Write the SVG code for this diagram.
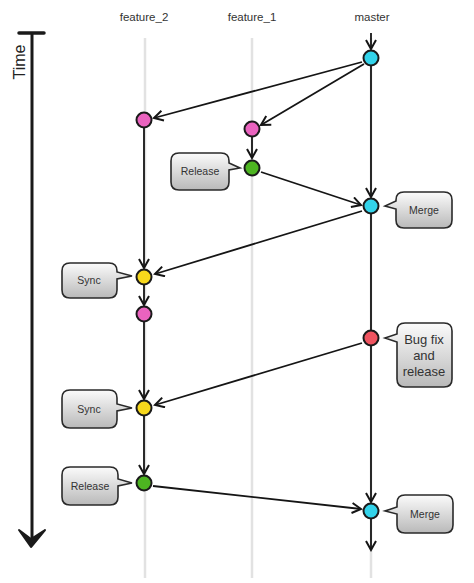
<svg xmlns="http://www.w3.org/2000/svg" width="474" height="583" viewBox="0 0 474 583">
<style>
  .lane { stroke: #e2e2e2; stroke-width: 2.5; fill: none; }
  .lbl { font-family: "Liberation Sans", Arial, sans-serif; font-size: 11.5px; fill: #333; text-anchor: middle; }
  .ctext { font-family: "Liberation Sans", Arial, sans-serif; font-size: 10.5px; fill: #333; text-anchor: middle; }
  .btext { font-family: "Liberation Sans", Arial, sans-serif; font-size: 13px; fill: #333; text-anchor: middle; }
  .conn { stroke: #151515; stroke-width: 1.8; fill: none; }
  .arr { marker-end: url(#ah); }
  .node { stroke: #1a1a1a; stroke-width: 2; }
  .callout { fill: url(#cg); stroke: #2a2a2a; stroke-width: 1.6; }
  .cyan { fill: #33d3ea; } .pink { fill: #ea63bf; } .green { fill: #4db521; }
  .yellow { fill: #f7d81c; } .red { fill: #ef5460; }
</style>
<defs>
  <linearGradient id="cg" x1="0" y1="0" x2="0" y2="1">
    <stop offset="0" stop-color="#fbfbfb"/>
    <stop offset="1" stop-color="#b9b9b9"/>
  </linearGradient>
  <marker id="ah" viewBox="0 0 12 12" refX="10" refY="6" markerWidth="12" markerHeight="12" markerUnits="userSpaceOnUse" orient="auto">
    <path d="M1,1 L10,6 L1,11" fill="none" stroke="#151515" stroke-width="2"/>
  </marker>
</defs>

<g id="lanes">
  <line class="lane" x1="145" y1="38" x2="145" y2="578"/>
  <line class="lane" x1="252" y1="38" x2="252" y2="578"/>
  <line class="lane" x1="371" y1="38" x2="371" y2="578"/>
</g>

<g id="labels">
  <text class="lbl" x="144" y="21">feature_2</text>
  <text class="lbl" x="252" y="21">feature_1</text>
  <text class="lbl" x="372" y="21">master</text>
</g>

<g id="time">
  <line x1="19" y1="33" x2="44" y2="33" stroke="#1a1a1a" stroke-width="3.5" stroke-linecap="round"/>
  <line x1="32" y1="33" x2="32" y2="540" stroke="#1a1a1a" stroke-width="3"/>
  <path d="M19,530 L31,547 L45,530 L31,539 Z" fill="#1a1a1a" stroke="#1a1a1a" stroke-width="2" stroke-linejoin="round"/>
  <text x="0" y="0" transform="translate(25,62) rotate(-90)" font-family="Liberation Sans, Arial, sans-serif" font-size="16" fill="#222" text-anchor="middle">Time</text>
</g>

<g id="connectors">
  <line class="conn arr" x1="371" y1="33" x2="371" y2="49"/>
  <line class="conn arr" x1="362" y1="62" x2="154" y2="118"/>
  <line class="conn arr" x1="364" y1="64" x2="261" y2="125"/>
  <line class="conn arr" x1="252" y1="137" x2="252" y2="158"/>
  <line class="conn arr" x1="261" y1="172" x2="361" y2="205"/>
  <line class="conn arr" x1="371" y1="66" x2="371" y2="197"/>
  <line class="conn arr" x1="362" y1="211" x2="155" y2="274"/>
  <line class="conn arr" x1="144" y1="128" x2="144" y2="268"/>
  <line class="conn arr" x1="144" y1="285" x2="144" y2="305"/>
  <line class="conn arr" x1="144" y1="322" x2="144" y2="399"/>
  <line class="conn arr" x1="144" y1="416" x2="144" y2="474"/>
  <line class="conn arr" x1="362" y1="343" x2="155" y2="405"/>
  <line class="conn arr" x1="153" y1="486" x2="361" y2="509"/>
  <line class="conn" x1="371" y1="214" x2="371" y2="330"/>
  <line class="conn arr" x1="371" y1="346" x2="371" y2="502"/>
  <line class="conn arr" x1="371" y1="519" x2="371" y2="550"/>
</g>

<g id="n_m1"><circle class="node cyan" cx="371" cy="58" r="7.5"/></g>
<g id="n_f2a"><circle class="node pink" cx="144" cy="120" r="7.5"/></g>
<g id="n_f1a"><circle class="node pink" cx="252" cy="129" r="7.5"/></g>
<g id="n_f1b"><circle class="node green" cx="252" cy="168" r="7.5"/></g>
<g id="n_m2"><circle class="node cyan" cx="371" cy="206" r="7.5"/></g>
<g id="n_f2b"><circle class="node yellow" cx="144" cy="277" r="7.5"/></g>
<g id="n_f2c"><circle class="node pink" cx="144" cy="314" r="7.5"/></g>
<g id="n_m3"><circle class="node red" cx="371" cy="338" r="7.5"/></g>
<g id="n_f2d"><circle class="node yellow" cx="144" cy="408" r="7.5"/></g>
<g id="n_f2e"><circle class="node green" cx="144" cy="483" r="7.5"/></g>
<g id="n_m4"><circle class="node cyan" cx="371" cy="511" r="7.5"/></g>

<g id="c_release1">
  <path class="callout" d="M179,153 H221 Q229,153 229,161 V163 L240,168 L229,170 V182 Q229,190 221,190 H179 Q171,190 171,182 V161 Q171,153 179,153 Z"/>
  <text class="ctext" x="200" y="175">Release</text>
</g>
<g id="c_merge1">
  <path class="callout" d="M404,192 H444 Q452,192 452,200 V220 Q452,228 444,228 H404 Q396,228 396,220 V209 L385,206 L396,201 V200 Q396,192 404,192 Z"/>
  <text class="ctext" x="424" y="214">Merge</text>
</g>
<g id="c_sync1">
  <path class="callout" d="M70,263 H109 Q117,263 117,271 V272 L132,276 L117,279 V290 Q117,298 109,298 H70 Q62,298 62,290 V271 Q62,263 70,263 Z"/>
  <text class="ctext" x="89" y="284">Sync</text>
</g>
<g id="c_bugfix">
  <path class="callout" d="M405,323 H444 Q452,323 452,331 V379 Q452,387 444,387 H405 Q397,387 397,379 V342 L385,338 L397,334 V331 Q397,323 405,323 Z"/>
  <text class="btext" x="424" y="344">Bug fix</text>
  <text class="btext" x="424" y="360">and</text>
  <text class="btext" x="424" y="376">release</text>
</g>
<g id="c_sync2">
  <path class="callout" d="M70,390 H109 Q117,390 117,398 V404 L132,408 L117,411 V420 Q117,428 109,428 H70 Q62,428 62,420 V398 Q62,390 70,390 Z"/>
  <text class="ctext" x="89" y="413">Sync</text>
</g>
<g id="c_release2">
  <path class="callout" d="M70,467 H110 Q118,467 118,475 V479 L132,483 L118,486 V497 Q118,505 110,505 H70 Q62,505 62,497 V475 Q62,467 70,467 Z"/>
  <text class="ctext" x="90" y="490">Release</text>
</g>
<g id="c_merge2">
  <path class="callout" d="M405,495 H445 Q453,495 453,503 V525 Q453,533 445,533 H405 Q397,533 397,525 V514 L385,511 L397,507 V503 Q397,495 405,495 Z"/>
  <text class="ctext" x="425" y="518">Merge</text>
</g>
</svg>
